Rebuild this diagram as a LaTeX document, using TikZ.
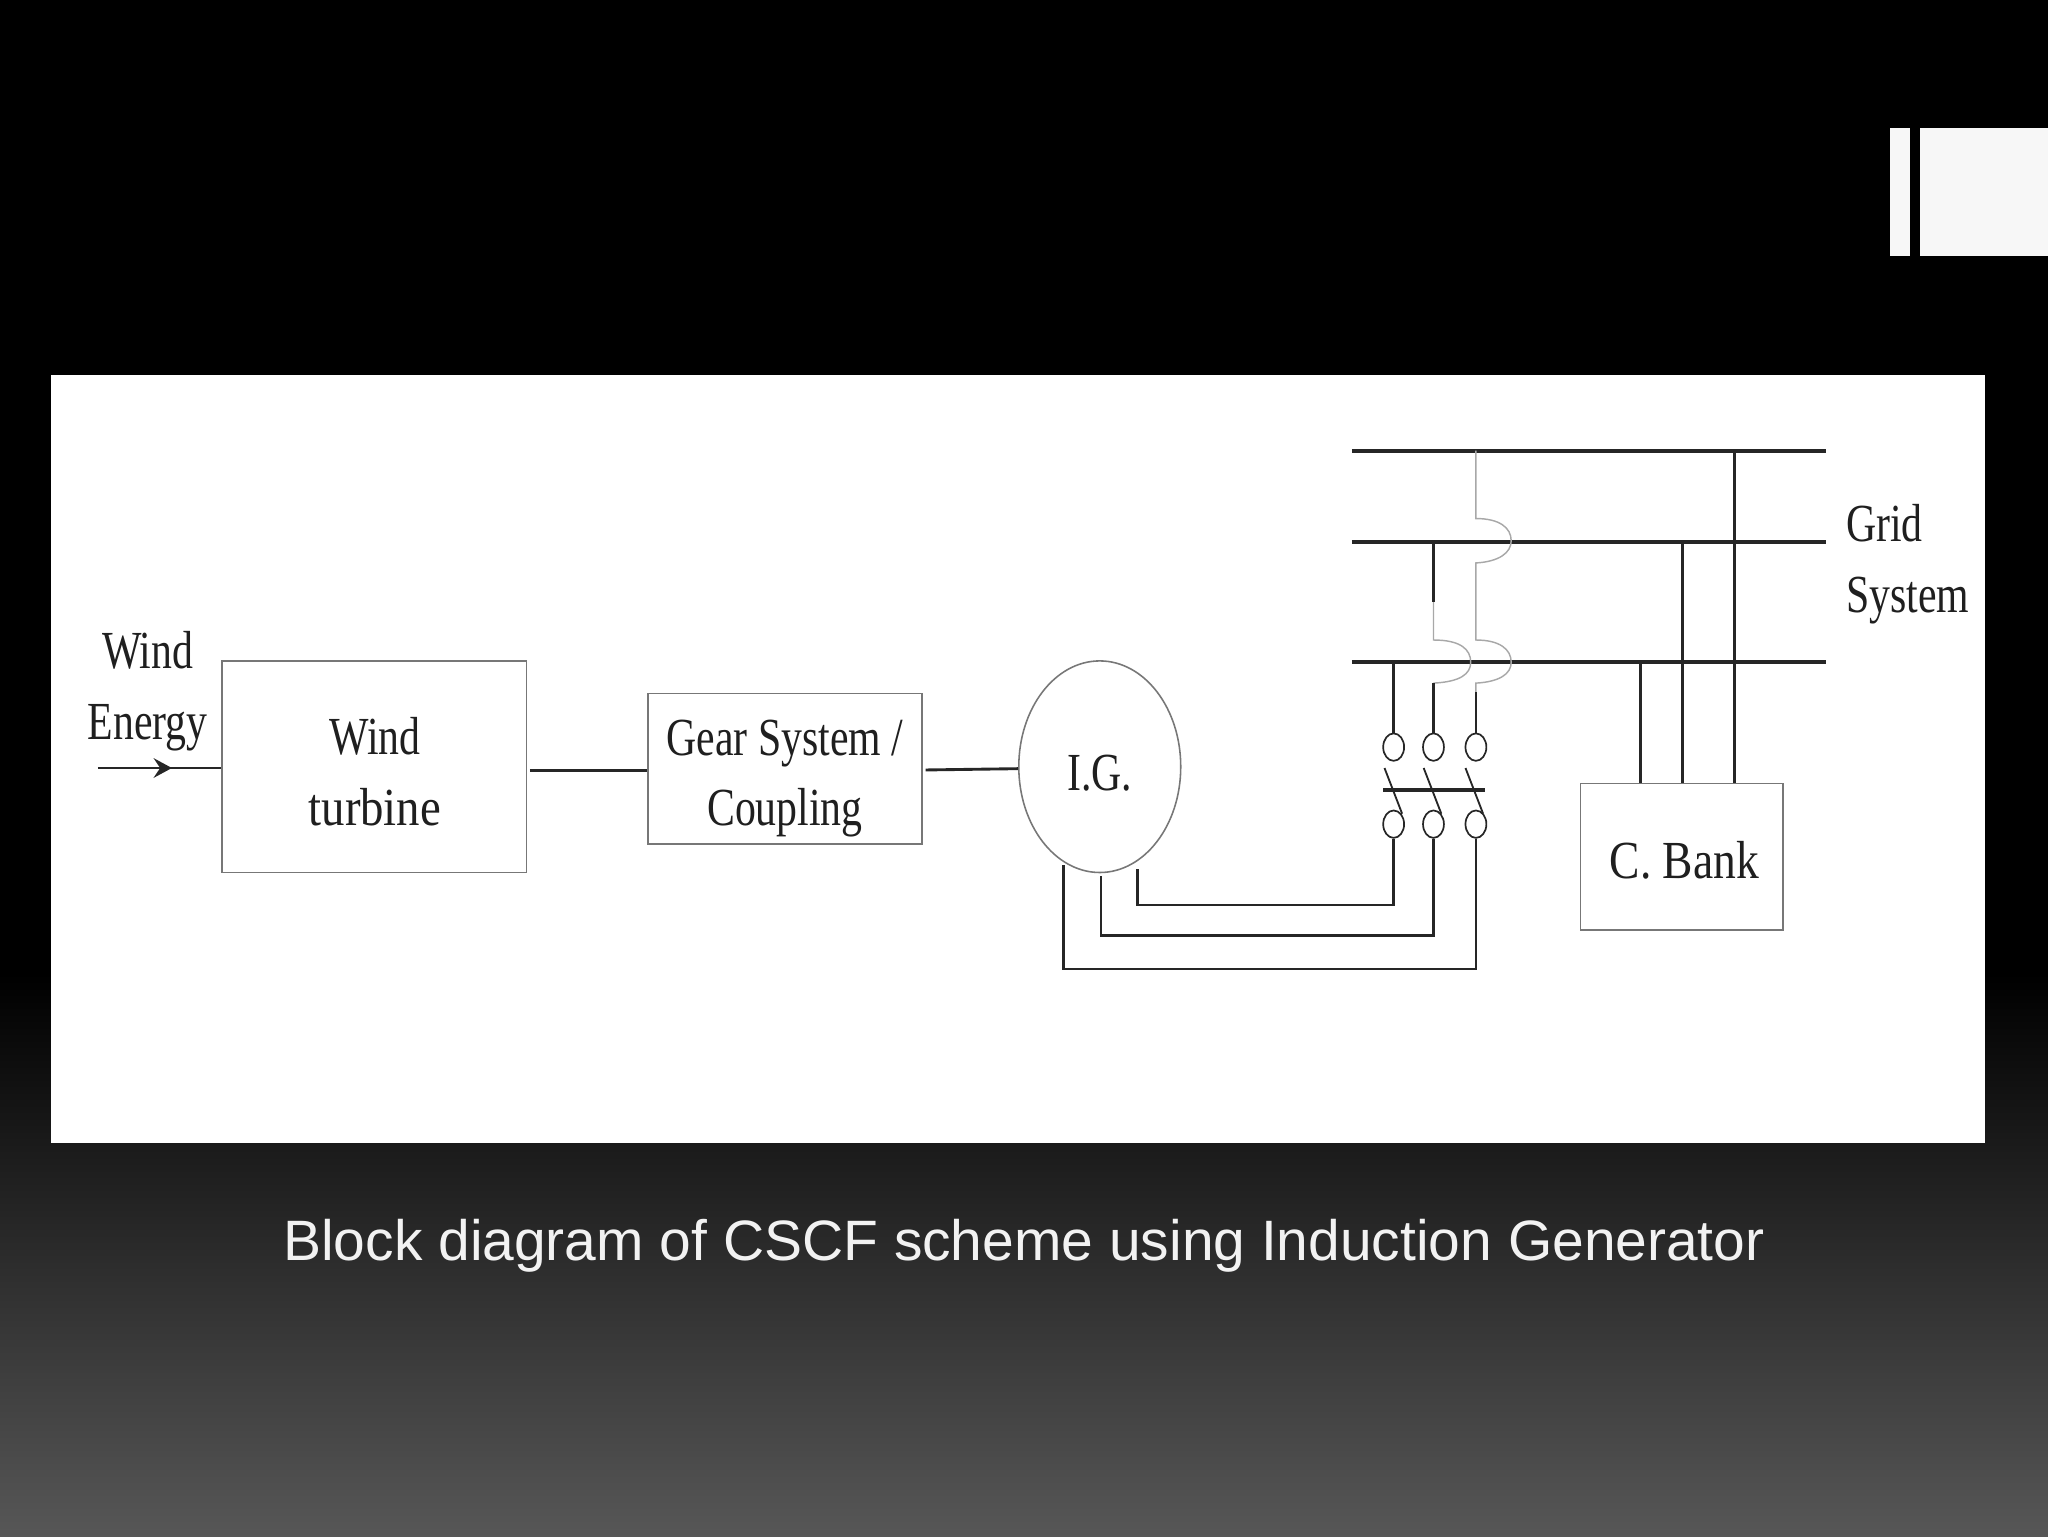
\documentclass[tikz,border=0pt]{standalone}
\usepackage{fontspec}
\setmainfont{Liberation Serif}
\setsansfont{Liberation Sans}
\usetikzlibrary{shapes.geometric,decorations.markings,arrows.meta}
\definecolor{lineink}{HTML}{262626}
\definecolor{boxink}{HTML}{777777}
\definecolor{fuseink}{HTML}{A8A8A8}
\tikzset{
  lbl/.style={font=\fontsize{41}{54}\selectfont, align=center, xscale=.78, text=black!88, inner sep=0pt},
  blockbox/.style={draw=boxink, line width=1.2pt, fill=white, inner sep=0pt, minimum width=#1},
  wire/.style={draw=lineink, line width=2pt},
  thinwire/.style={draw=fuseink, line width=1.1pt},
  bus/.style={draw=lineink, line width=3pt},
  contact/.style={ellipse, draw=lineink, line width=1.3pt, inner sep=0pt, minimum width=16pt, minimum height=21pt}
}
\begin{document}
\begin{tikzpicture}[x=1pt,y=-1pt]
\useasboundingbox (0,0) rectangle (1568,1176);
\fill[black] (0,0) rectangle (1568,745);
\shade[top color=black,bottom color=black!66!white] (0,745) rectangle (1568,1176);
\fill[white!97!black] (1447,98) rectangle (1462,196);
\fill[white!97!black] (1470,98) rectangle (1568,196);
\fill[white] (39,287) rectangle (1520,875);
% blocks
\node[blockbox=233pt, minimum height=162pt] (turbine) at (286.5,587) {};
\node[blockbox=210pt, minimum height=115pt] (gear) at (601,588.5) {};
\node[ellipse, draw=boxink, line width=1.2pt, minimum width=124pt, minimum height=162pt, inner sep=0pt] (ig) at (842,587) {};
\node[blockbox=155pt, minimum height=112pt] (cbank) at (1287.5,656) {};
% labels
\node[lbl] (windenergy) at (113,529) {Wind\\Energy};
\node[lbl] (windturbine) at (287,591) {Wind\\\scalebox{1.12}[1]{turbine}};
\node[lbl] (gearsys) at (601,596) {Gear System /\\Coupling};
\node[lbl] (iglabel) at (842,592) {I.G.};
\node[lbl,xscale=1.09] (cblabel) at (1289.5,659) {C. Bank};
\node[lbl,align=left] (gridlabel) at (1460.5,432) {Grid\\System};
\node[font=\sffamily\fontsize{43.6}{50}\selectfont, text=white!95!black, inner sep=0pt] (caption) at (784,953.5) {Block diagram of CSCF scheme using Induction Generator};
% buses
\coordinate (b1l) at (1035,345); \coordinate (b1r) at (1398,345);
\coordinate (b2l) at (1035,415); \coordinate (b2r) at (1398,415);
\coordinate (b3l) at (1035,507); \coordinate (b3r) at (1398,507);
\draw[bus] (b1l) -- (b1r);
\draw[bus] (b2l) -- (b2r);
\draw[bus] (b3l) -- (b3r);
% contacts
\foreach \n/\x in {a/1067,b/1097.5,c/1130}{
  \node[contact] (\n t) at (\x,572) {};
  \node[contact] (\n b) at (\x,631) {};
}
\coordinate (barl) at (1059,605); \coordinate (barr) at (1137,605);
\draw[bus] (barl) -- (barr);
\foreach \n/\x in {a/1060,b/1090,c/1122}{
  \coordinate (\n s) at (\x,588);
  \coordinate (\n e) at (\x+13.5,623);
  \draw[lineink,line width=1.4pt] (\n s) -- (\n e);
}
% grid to contacts
\coordinate (a3) at (1067,507);
\coordinate (b2) at (1097.5,415);
\coordinate (c1) at (1130,345);
\draw[wire] (a3) -- (at.north);
\draw[wire] (b2) -- (1097.5,461);
\draw[thinwire] (1097.5,461) -- (1097.5,490) .. controls (1118,490) and (1126,497) .. (1126,507) .. controls (1126,516) and (1118,522) .. (1097.5,523);
\draw[wire] (1097.5,523) -- (bt.north);
\draw[thinwire] (c1) -- (1130,397) .. controls (1148,397) and (1157,404) .. (1157,414) .. controls (1157,423) and (1148,430) .. (1130,431) -- (1130,490) .. controls (1148,490) and (1157,497) .. (1157,507) .. controls (1157,516) and (1148,522) .. (1130,523) -- (1130,530);
\draw[wire,line width=1.5pt] (1130,530) -- (ct.north);
% contacts to generator
\coordinate (g1) at (871,665);
\coordinate (g2) at (843,671);
\coordinate (g3) at (814,662);
\draw[wire] (ab.south) -- (1067,693) -- (871,693) -- (g1);
\draw[wire] (bb.south) -- (1097.5,716) -- (843,716) -- (g2);
\draw[wire] (cb.south) -- (1130,742) -- (814,742) -- (g3);
% c bank
\coordinate (cb1) at (1256,507);
\coordinate (cb2) at (1288,415);
\coordinate (cb3) at (1328,345);
\draw[wire] (cb1) -- (cb1 |- cbank.north);
\draw[wire] (cb2) -- (cb2 |- cbank.north);
\draw[wire] (cb3) -- (cb3 |- cbank.north);
% drive train
\coordinate (windin) at (75,588);
\draw[wire,line width=2.2pt,decoration={markings,mark=at position 0.6 with {\arrow{Stealth[length=14pt,width=15pt,inset=5pt]}}},postaction={decorate}] (windin) -- (windin -| turbine.west);
\draw[wire,line width=2.2pt] ([xshift=2pt,yshift=-3pt]turbine.east) -- ([yshift=-1.5pt]gear.west);
\draw[wire,line width=2.2pt] ([xshift=2pt,yshift=-1pt]gear.east) -- ([yshift=-1.5pt]ig.west);
\end{tikzpicture}
\end{document}
